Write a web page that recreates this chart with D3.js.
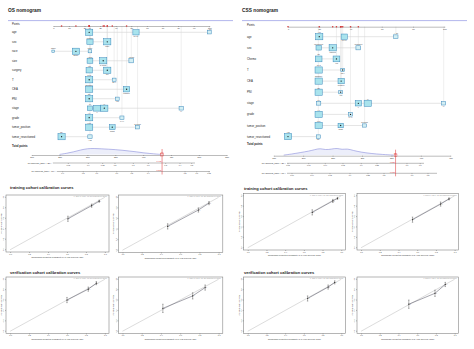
<!DOCTYPE html>
<html><head><meta charset="utf-8">
<script src="https://cdn.jsdelivr.net/npm/d3@7"></script>
<style>body{margin:0;background:#fff}svg{display:block}text{font-family:"Liberation Sans",Arial,sans-serif}</style>
</head><body>
<svg id="c" width="474" height="349"></svg>
<script>
// ---------------- OS nomogram data ----------------
const osVars = ["age","sex","race","size","surgery","T","CEA","PNI","stage","grade","tumor_position","tumor_resectioned"];
const osLevels = [["<60","60-79",">=80"],["Female","Male"],["Other","Black","White"],["<5cm","5-10cm",">10cm"],["Yes","No"],["T1-2","T3-4"],["Negative","Positive"],["No","Yes"],["0/I","II","III","IV"],["I-II","III-IV"],["Left","Right","Rectum"],["12+","<12"]];
const osPoints = [[23,53,100],[23.5,34.6],[0,14.5,23.5],[23.5,32,50],[23,34.6],[23,39],[23,47],[23,41],[23.5,28,32.7,82],[23,44],[23,37.8,54],[5.3,23.5]];
const osFreq = [[1,0.8,0.3],[0.8,1],[0.1,1,0.25],[0.7,1,0.5],[0.8,1],[1,0.3],[1,0.8],[1,0.3],[0.6,0.9,1,0.4],[1,0.35],[1,0.7,0.35],[1,0.4]];
const osSelected = [0,1,1,1,1,0,1,0,2,0,1,0];
const osPointTicks = [0,10,20,30,40,50,60,70,80,90,100];
const osTotalTicks = [200,250,300,350,400,450,500,550];
const osDensTP = [250,262,275,288,300,312,325,338,350,362,375,388,400,412,425,432];
const osDensH = [0,1,2.5,4.5,5.8,6,5.6,5.2,4.8,4.2,3.4,2.6,1.6,0.9,0.3,0];
const osTotal = 434;
const osPr1Labels = ["0.95","0.9","0.85","0.8","0.7","0.6","0.5","0.4","0.3"];
const osPr1TP = [265.7,301.6,327.4,349.5,382.4,409.3,440.5,466.2,487.2];
const osPr1Span = [238,493];
const osPr2Labels = ["0.9","0.8","0.7","0.6","0.5","0.4","0.2","0.1","0.05"];
const osPr2TP = [255.6,292.6,316.7,352.6,379.5,409.3,475.2,496.2,518.3];
const osPr2Span = [245,520];
const osPr = ["0.472","0.338"];

// ---------------- CSS nomogram data ----------------
const cssVars = ["age","sex","Chemo","T","CEA","PNI","stage","grade","tumor_position","tumor_resectioned"];
const cssLevels = [["<60","60-79",">=80"],["Unmarried","Married","Widowed"],["No","Yes"],["T1-2","T3-4"],["Negative","Positive"],["No","Yes"],["0/I","II","III","IV"],["I-II","III-IV"],["Left","Right","Rectum"],["<12","12+"]];
const cssPoints = [[20,36,69],[19.6,28.6,45],[19.6,31],[19.6,35],[19.6,34],[19.6,33.7],[19.6,45,51,99.6],[19.6,40],[19.6,33.7,49],[0,19.4]];
const cssFreq = [[1,0.8,0.4],[0.6,1,0.5],[0.9,0.9],[1,0.3],[1,0.8],[1,0.3],[0.4,0.8,1,0.35],[1,0.35],[1,0.6,0.3],[1,0.35]];
const cssSelected = [0,1,1,1,1,1,1,1,1,0];
const cssPointTicks = [0,20,40,60,80,100];
const cssTotalTicks = [150,200,250,300,350,400,450];
const cssDensTP = [167,180,195,210,220,229,238,248,258,266,275,285,298,315,335,354];
const cssDensH = [0,1,2.5,4,5.5,6.8,5.2,6,7,5.4,6.5,4.6,3,1.6,0.6,0];
const cssTotal = 357;
const cssPr1Labels = ["0.98","0.96","0.94","0.92","0.9","0.85","0.7","0.6"];
const cssPr1TP = [174.3,209.5,237.7,267.7,298.8,325.5,376.4,399];
const cssPr1Span = [172.6,405.3];
const cssPr2Labels = ["0.96","0.94","0.92","0.9","0.85","0.8","0.6","0.5"];
const cssPr2TP = [181.1,215.1,245.6,279.6,310.2,337.4,384.9,412.1];
const cssPr2Span = [172.6,427.4];
const cssPr = ["0.221","0.318"];

// ---------------- calibration data ----------------
const calTicks = [0,0.2,0.4,0.6,0.8,1.0];
const osTrain3X = [0.61,0.86,0.94], osTrain3Y = [0.59,0.84,0.925], osTrain3E = [0.05,0.03,0.02];
const osTrain5X = [0.47,0.79,0.90], osTrain5Y = [0.45,0.76,0.89], osTrain5E = [0.05,0.04,0.03];
const osVer3X = [0.60,0.825,0.91], osVer3Y = [0.60,0.81,0.925], osVer3E = [0.05,0.04,0.03];
const osVer5X = [0.42,0.73,0.86], osVer5Y = [0.44,0.68,0.84], osVer5E = [0.08,0.06,0.05];
const cssTrain3X = [0.69,0.91,0.96], cssTrain3Y = [0.68,0.90,0.95], cssTrain3E = [0.05,0.03,0.02];
const cssTrain5X = [0.55,0.85,0.94], cssTrain5Y = [0.54,0.84,0.94], cssTrain5E = [0.05,0.04,0.02];
const cssVer3X = [0.64,0.86,0.93], cssVer3Y = [0.63,0.85,0.94], cssVer3E = [0.05,0.04,0.03];
const cssVer5X = [0.51,0.79,0.90], cssVer5Y = [0.52,0.73,0.90], cssVer5E = [0.08,0.06,0.04];

const svg = d3.select("#c");

function styleAxis(a, fs){
  a.attr("font-size", fs).attr("font-family", "Liberation Sans, Arial, sans-serif");
  a.selectAll("path").attr("stroke", "#555").attr("stroke-width", 0.4);
  a.selectAll("line").attr("stroke", "#555").attr("stroke-width", 0.4);
  a.selectAll("text").attr("fill", "#333").attr("font-size", fs);
}

function drawNomogram(o){
  const g = svg.append("g");
  g.append("text").attr("x", o.titleX).attr("y", 12).attr("font-size", 4.8).attr("font-weight", "bold").attr("fill", "#222").text(o.title);
  g.append("line").attr("x1", o.lineX[0]).attr("x2", o.lineX[1]).attr("y1", 20.6).attr("y2", 20.6).attr("stroke", "#aaaeea").attr("stroke-width", 0.9);
  const xp = d3.scaleLinear().domain([0,100]).range(o.ptsRange);
  const xt = d3.scaleLinear().domain([o.tpTicks[0], o.tpTicks[o.tpTicks.length-1]]).range(o.tpRange);
  const rowY = i => o.rowY0 + i*o.rowStep;
  const lab = (t, y, bold) => g.append("text").attr("x", o.labelX).attr("y", y).attr("font-size", 2.8).attr("fill", "#222").attr("font-weight", bold ? "bold" : "normal").text(t);
  lab("Points", o.ptsY - 1.2);
  o.vars.forEach((v, i) => {
    const ps = o.pts[i];
    const mx = d3.max(ps), mn = d3.min(ps);
    g.append("line").attr("x1", xp(mx)).attr("x2", xp(mx)).attr("y1", o.ptsY).attr("y2", rowY(i)).attr("stroke", "#d6d6d6").attr("stroke-width", 0.4);
    g.append("line").attr("x1", xp(mn)).attr("x2", xp(mx)).attr("y1", rowY(i)).attr("y2", rowY(i)).attr("stroke", "#c4c4c4").attr("stroke-width", 0.45);
  });
  const ax = g.append("g").attr("transform", `translate(0,${o.ptsY})`)
    .call(d3.axisBottom(xp).tickValues(o.ptsTicks).tickSize(0.9).tickSizeOuter(0).tickPadding(0.4));
  styleAxis(ax, 2.2);
  o.vars.forEach((v, i) => {
    g.append("circle").attr("cx", xp(o.pts[i][o.sel[i]])).attr("cy", o.ptsY).attr("r", 0.8).attr("fill", "#d63a3a");
  });
  o.vars.forEach((v, i) => {
    const y = rowY(i);
    lab(v, y + 1);
    o.pts[i].forEach((p, j) => {
      const f = o.freq[i][j];
      const w = 2.4 + 4.8*f, h = 2 + 4.2*f;
      g.append("rect").attr("x", xp(p) - w/2).attr("y", y - h/2).attr("width", w).attr("height", h)
        .attr("fill", f > 0.5 ? "#a9e3ed" : "#d3eff4").attr("stroke", "#3a88bb").attr("stroke-width", 0.5);
      if (j === o.sel[i]) g.append("circle").attr("cx", xp(p)).attr("cy", y).attr("r", 0.65).attr("fill", "#1a1a1a");
      const above = j % 2 === 0;
      g.append("text").attr("x", xp(p)).attr("y", above ? y - h/2 - 0.6 : y + h/2 + 2.1)
        .attr("text-anchor", "middle").attr("font-size", 1.9).attr("fill", "#444").text(o.levels[i][j]);
    });
  });
  lab("Total points", o.tpLabelY, true);
  const dens = d3.area().x((d, k) => xt(o.densTP[k])).y0(o.tpY - 0.6).y1((d, k) => o.tpY - 0.6 - o.densH[k]).curve(d3.curveBasis);
  g.append("path").attr("d", dens(o.densH)).attr("fill", "#eceefa").attr("stroke", "none");
  const dline = d3.line().x((d, k) => xt(o.densTP[k])).y((d, k) => o.tpY - 0.6 - o.densH[k]).curve(d3.curveBasis);
  g.append("path").attr("d", dline(o.densH)).attr("fill", "none").attr("stroke", "#7478d4").attr("stroke-width", 0.5);
  const at = g.append("g").attr("transform", `translate(0,${o.tpY})`)
    .call(d3.axisBottom(xt).tickValues(o.tpTicks).tickSize(0.9).tickSizeOuter(0).tickPadding(0.5));
  styleAxis(at, 2.2);
  const prAxis = (y, span, tps, labels, txt) => {
    g.append("text").attr("x", xt(span[0]) - 1.5).attr("y", y + 0.8).attr("text-anchor", "end").attr("font-size", 2.3).attr("fill", "#222").text(txt);
    g.append("line").attr("x1", xt(span[0])).attr("x2", xt(span[1])).attr("y1", y).attr("y2", y).attr("stroke", "#555").attr("stroke-width", 0.4);
    tps.forEach((t, k) => {
      g.append("line").attr("x1", xt(t)).attr("x2", xt(t)).attr("y1", y).attr("y2", y + 0.9).attr("stroke", "#555").attr("stroke-width", 0.4);
      g.append("text").attr("x", xt(t)).attr("y", y + 2.9).attr("text-anchor", "middle").attr("font-size", 1.9).attr("fill", "#333").text(labels[k]);
    });
  };
  prAxis(o.pr1Y, o.pr1Span, o.pr1TP, o.pr1Labels, "Pr( survival_time < 36 )");
  prAxis(o.pr2Y, o.pr2Span, o.pr2TP, o.pr2Labels, "Pr( survival_time < 60 )");
  const rx = xt(o.total);
  g.append("line").attr("x1", rx).attr("x2", rx).attr("y1", o.tpY - 6).attr("y2", o.pr2Y + 3).attr("stroke", "#e03a3a").attr("stroke-width", 0.55);
  g.append("rect").attr("x", rx - 1.4).attr("y", o.tpY - 1.6).attr("width", 2.8).attr("height", 2.6).attr("fill", "none").attr("stroke", "#e03a3a").attr("stroke-width", 0.4);
  g.append("text").attr("x", rx).attr("y", o.tpY - 2.2).attr("text-anchor", "middle").attr("font-size", 1.9).attr("fill", "#e03a3a").text(o.total);
  [o.pr1Y, o.pr2Y].forEach((y, k) => {
    g.append("text").attr("x", rx - 0.6).attr("y", y - 0.6).attr("text-anchor", "end").attr("font-size", 2).attr("fill", "#e03a3a").text(o.pr[k]);
  });
}

drawNomogram({title: "OS nomogram", titleX: 8, lineX: [8, 233], labelX: 12, ptsRange: [53.3, 209.3], ptsTicks: osPointTicks, ptsY: 26,
  rowY0: 32.3, rowStep: 9.49, vars: osVars, pts: osPoints, freq: osFreq, levels: osLevels, sel: osSelected,
  tpLabelY: 147, tpY: 155, tpRange: [31.7, 226.7], tpTicks: osTotalTicks, densTP: osDensTP, densH: osDensH, total: osTotal,
  pr1Y: 163, pr1Span: osPr1Span, pr1TP: osPr1TP, pr1Labels: osPr1Labels,
  pr2Y: 171.5, pr2Span: osPr2Span, pr2TP: osPr2TP, pr2Labels: osPr2Labels, pr: osPr});

drawNomogram({title: "CSS nomogram", titleX: 242, lineX: [242, 467], labelX: 247, ptsRange: [288, 444.3], ptsTicks: cssPointTicks, ptsY: 26.7,
  rowY0: 36.7, rowStep: 11.1, vars: cssVars, pts: cssPoints, freq: cssFreq, levels: cssLevels, sel: cssSelected,
  tpLabelY: 145, tpY: 155.7, tpRange: [273.7, 450.3], tpTicks: cssTotalTicks, densTP: cssDensTP, densH: cssDensH, total: cssTotal,
  pr1Y: 163.3, pr1Span: cssPr1Span, pr1TP: cssPr1TP, pr1Labels: cssPr1Labels,
  pr2Y: 173.3, pr2Span: cssPr2Span, pr2TP: cssPr2TP, pr2Labels: cssPr2Labels, pr: cssPr});

// ---------------- calibration ----------------
function sectionTitle(x, y, t){
  svg.append("text").attr("x", x).attr("y", y).attr("font-size", 4).attr("font-weight", "bold").attr("fill", "#222").text(t);
}
function drawCal(fr, xs, ys, es, year, model){
  const g = svg.append("g");
  const pad = 0.04;
  const x = d3.scaleLinear().domain([0,1]).range([fr.x + fr.w*pad, fr.x + fr.w*(1-pad)]);
  const y = d3.scaleLinear().domain([0,1]).range([fr.y + fr.h*(1-pad), fr.y + fr.h*pad]);
  g.append("rect").attr("x", fr.x).attr("y", fr.y).attr("width", fr.w).attr("height", fr.h).attr("fill", "none").attr("stroke", "#7a7a7a").attr("stroke-width", 0.55);
  g.append("line").attr("x1", x(0)).attr("y1", y(0)).attr("x2", x(1)).attr("y2", y(1)).attr("stroke", "#c4c4c4").attr("stroke-width", 0.6);
  const ax = g.append("g").attr("transform", `translate(0,${fr.y + fr.h})`)
    .call(d3.axisBottom(x).tickValues(calTicks).tickSize(1).tickSizeOuter(0).tickPadding(0.4).tickFormat(d3.format(".1f")));
  styleAxis(ax, 1.9); ax.select(".domain").remove();
  calTicks.forEach(t => {
    g.append("line").attr("x1", fr.x - 1).attr("x2", fr.x).attr("y1", y(t)).attr("y2", y(t)).attr("stroke", "#555").attr("stroke-width", 0.4);
    g.append("text").attr("transform", `translate(${fr.x - 1.6},${y(t)}) rotate(-90)`).attr("text-anchor", "middle").attr("font-size", 1.9).attr("fill", "#333").text(t.toFixed(1));
  });
  const pts = xs.map((v, i) => [x(v), y(ys[i])]);
  g.append("path").attr("d", d3.line()(pts)).attr("fill", "none").attr("stroke", "#4a4a5a").attr("stroke-width", 0.5);
  xs.forEach((v, i) => {
    const cx = x(v), y1 = y(ys[i] - es[i]), y2 = y(ys[i] + es[i]);
    g.append("line").attr("x1", cx).attr("x2", cx).attr("y1", y1).attr("y2", y2).attr("stroke", "#444").attr("stroke-width", 0.4);
    [y1, y2].forEach(yy => g.append("line").attr("x1", cx - 0.7).attr("x2", cx + 0.7).attr("y1", yy).attr("y2", yy).attr("stroke", "#444").attr("stroke-width", 0.4));
    g.append("circle").attr("cx", cx).attr("cy", y(ys[i])).attr("r", 0.6).attr("fill", "#333");
    g.append("text").attr("x", cx + 0.9).attr("y", y(ys[i]) + 0.6).attr("font-size", 1.8).attr("fill", "#555").text("x");
  });
  g.append("text").attr("x", fr.x + fr.w - 2).attr("y", fr.y + 2.4).attr("text-anchor", "end").attr("font-size", 1.7).attr("fill", "#999").text("n=2134 d=612 p=12, 300 subjects per group");
  g.append("text").attr("x", fr.x + fr.w/2).attr("y", fr.y + fr.h + 6.2).attr("text-anchor", "middle").attr("font-size", 2.1).attr("fill", "#333")
    .text(`Nomogram Predicted Probability of ${year}-Year Survival (${model})`);
  g.append("text").attr("transform", `translate(${fr.x - 4.2},${fr.y + fr.h/2}) rotate(-90)`).attr("text-anchor", "middle").attr("font-size", 2.1).attr("fill", "#333")
    .text(`Actual ${year}-Year Survival`);
}

sectionTitle(10, 188.5, "training cohort calibration curves");
sectionTitle(10, 273.5, "verification cohort calibration curves");
sectionTitle(244, 189.5, "training cohort calibration curves");
sectionTitle(244, 273.5, "verification cohort calibration curves");

drawCal({x: 6, y: 195, w: 103, h: 57}, osTrain3X, osTrain3Y, osTrain3E, 3, "OS");
drawCal({x: 118.3, y: 195, w: 104.5, h: 57.5}, osTrain5X, osTrain5Y, osTrain5E, 5, "OS");
drawCal({x: 6, y: 277, w: 103, h: 56.5}, osVer3X, osVer3Y, osVer3E, 3, "OS");
drawCal({x: 118.3, y: 277, w: 104.5, h: 56.5}, osVer5X, osVer5Y, osVer5E, 5, "OS");
drawCal({x: 243.7, y: 193.5, w: 101.6, h: 56.5}, cssTrain3X, cssTrain3Y, cssTrain3E, 3, "CSS");
drawCal({x: 357, y: 193.5, w: 101.7, h: 56.5}, cssTrain5X, cssTrain5Y, cssTrain5E, 5, "CSS");
drawCal({x: 243.7, y: 277, w: 101.6, h: 56.5}, cssVer3X, cssVer3Y, cssVer3E, 3, "CSS");
drawCal({x: 357, y: 277, w: 101.7, h: 56.5}, cssVer5X, cssVer5Y, cssVer5E, 5, "CSS");
</script>
</body></html>
